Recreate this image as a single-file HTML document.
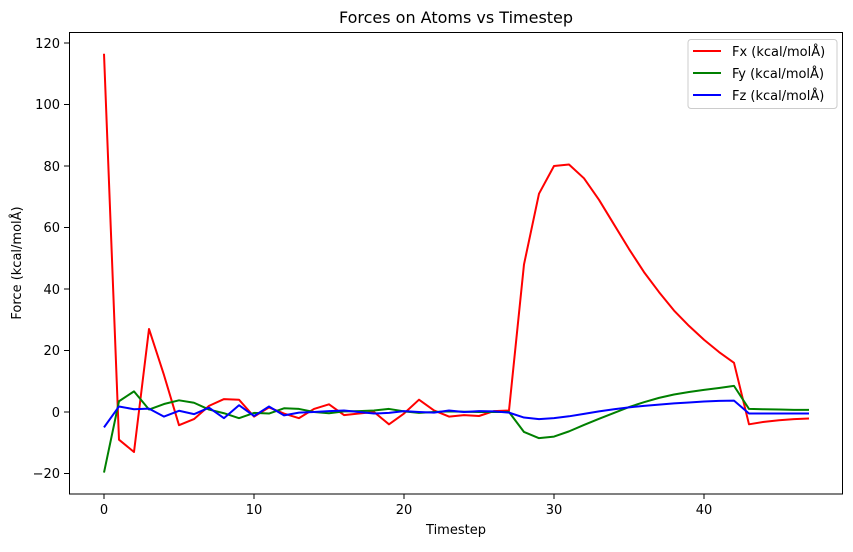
<!DOCTYPE html>
<html><head><meta charset="utf-8"><style>
body{margin:0;background:#fff;}
svg text{font-family:"DejaVu Sans","Liberation Sans",sans-serif;fill:#000;}
</style></head><body>
<svg width="853" height="547" viewBox="0 0 853 547" xmlns="http://www.w3.org/2000/svg">
<rect width="853" height="547" fill="#fff"/>
<text x="456" y="23" font-size="16" text-anchor="middle">Forces on Atoms vs Timestep</text>
<g stroke="#000" stroke-width="1">
<line x1="104" y1="494" x2="104" y2="499"/><line x1="254" y1="494" x2="254" y2="499"/><line x1="404" y1="494" x2="404" y2="499"/><line x1="554" y1="494" x2="554" y2="499"/><line x1="704" y1="494" x2="704" y2="499"/>
<line x1="64" y1="473.5" x2="69" y2="473.5"/><line x1="64" y1="412" x2="69" y2="412"/><line x1="64" y1="350.5" x2="69" y2="350.5"/><line x1="64" y1="289" x2="69" y2="289"/><line x1="64" y1="227.5" x2="69" y2="227.5"/><line x1="64" y1="166" x2="69" y2="166"/><line x1="64" y1="104.5" x2="69" y2="104.5"/><line x1="64" y1="43" x2="69" y2="43"/>
</g>
<g font-size="13" text-anchor="middle">
<text x="104" y="514">0</text><text x="254" y="514">10</text><text x="404" y="514">20</text><text x="554" y="514">30</text><text x="704" y="514">40</text>
<text x="456" y="534">Timestep</text>
</g>
<g font-size="13" text-anchor="end">
<text x="60" y="478">−20</text><text x="60" y="417">0</text><text x="60" y="355">20</text><text x="60" y="294">40</text><text x="60" y="232">60</text><text x="60" y="171">80</text><text x="60" y="109">100</text><text x="60" y="48">120</text>
</g>
<text transform="translate(21,263) rotate(-90)" font-size="13" text-anchor="middle">Force (kcal/molÅ)</text>
<g transform="translate(104,412) scale(15,-3.075)" fill="none" stroke-width="2" stroke-linejoin="round">
<polyline vector-effect="non-scaling-stroke" stroke="#ff0000" points="0,116.5 1,-9 2,-13 3,27 4,12 5,-4.3 6,-2.3 7,2 8,4.2 9,4 10,-1.5 11,1.5 12,-0.5 13,-2 14,1 15,2.5 16,-1 17,-0.5 18,0 19,-4 20,-0.5 21,4 22,0.5 23,-1.5 24,-1 25,-1.3 26,0.3 27,0.5 28,48 29,71 30,80 31,80.5 32,76 33,69 34,61 35,53 36,45.5 37,39 38,33 39,28 40,23.5 41,19.5 42,16 43,-4 44,-3.2 45,-2.7 46,-2.3 47,-2.1"/>
<polyline vector-effect="non-scaling-stroke" stroke="#008000" points="0,-19.7 1,3.5 2,6.7 3,0.8 4,2.6 5,3.8 6,3 7,0.8 8,-0.4 9,-2 10,-0.3 11,-0.5 12,1.2 13,1 14,0 15,-0.4 16,0.2 17,0.3 18,0.5 19,1 20,0.2 21,-0.3 22,0 23,0.2 24,0.1 25,0 26,0 27,0 28,-6.5 29,-8.5 30,-8 31,-6.3 32,-4.2 33,-2.2 34,-0.3 35,1.6 36,3.2 37,4.6 38,5.7 39,6.5 40,7.2 41,7.8 42,8.5 43,1 44,0.9 45,0.8 46,0.7 47,0.7"/>
<polyline vector-effect="non-scaling-stroke" stroke="#0000ff" points="0,-5 1,1.8 2,0.9 3,1.1 4,-1.5 5,0.4 6,-0.7 7,1.4 8,-2 9,2.2 10,-1.3 11,1.8 12,-1.1 13,-0.2 14,0 15,0.3 16,0.5 17,0 18,-0.5 19,-0.3 20,0.3 21,0 22,-0.2 23,0.5 24,0 25,0.3 26,0.2 27,-0.2 28,-1.8 29,-2.3 30,-2 31,-1.4 32,-0.6 33,0.2 34,0.9 35,1.5 36,2 37,2.4 38,2.8 39,3.1 40,3.4 41,3.6 42,3.7 43,-0.5 44,-0.5 45,-0.5 46,-0.5 47,-0.5"/>
</g>
<rect x="69.5" y="32.5" width="773" height="461.5" fill="none" stroke="#000" stroke-width="1"/>
<rect x="688" y="39.5" width="149" height="69" rx="3" fill="#fff" fill-opacity="0.8" stroke="#ccc"/>
<g stroke-width="2">
<line x1="693" y1="51" x2="721" y2="51" stroke="#ff0000"/>
<line x1="693" y1="73" x2="721" y2="73" stroke="#008000"/>
<line x1="693" y1="95" x2="721" y2="95" stroke="#0000ff"/>
</g>
<g font-size="13">
<text x="732" y="56">Fx (kcal/molÅ)</text>
<text x="732" y="78">Fy (kcal/molÅ)</text>
<text x="732" y="100">Fz (kcal/molÅ)</text>
</g>
</svg>
</body></html>
